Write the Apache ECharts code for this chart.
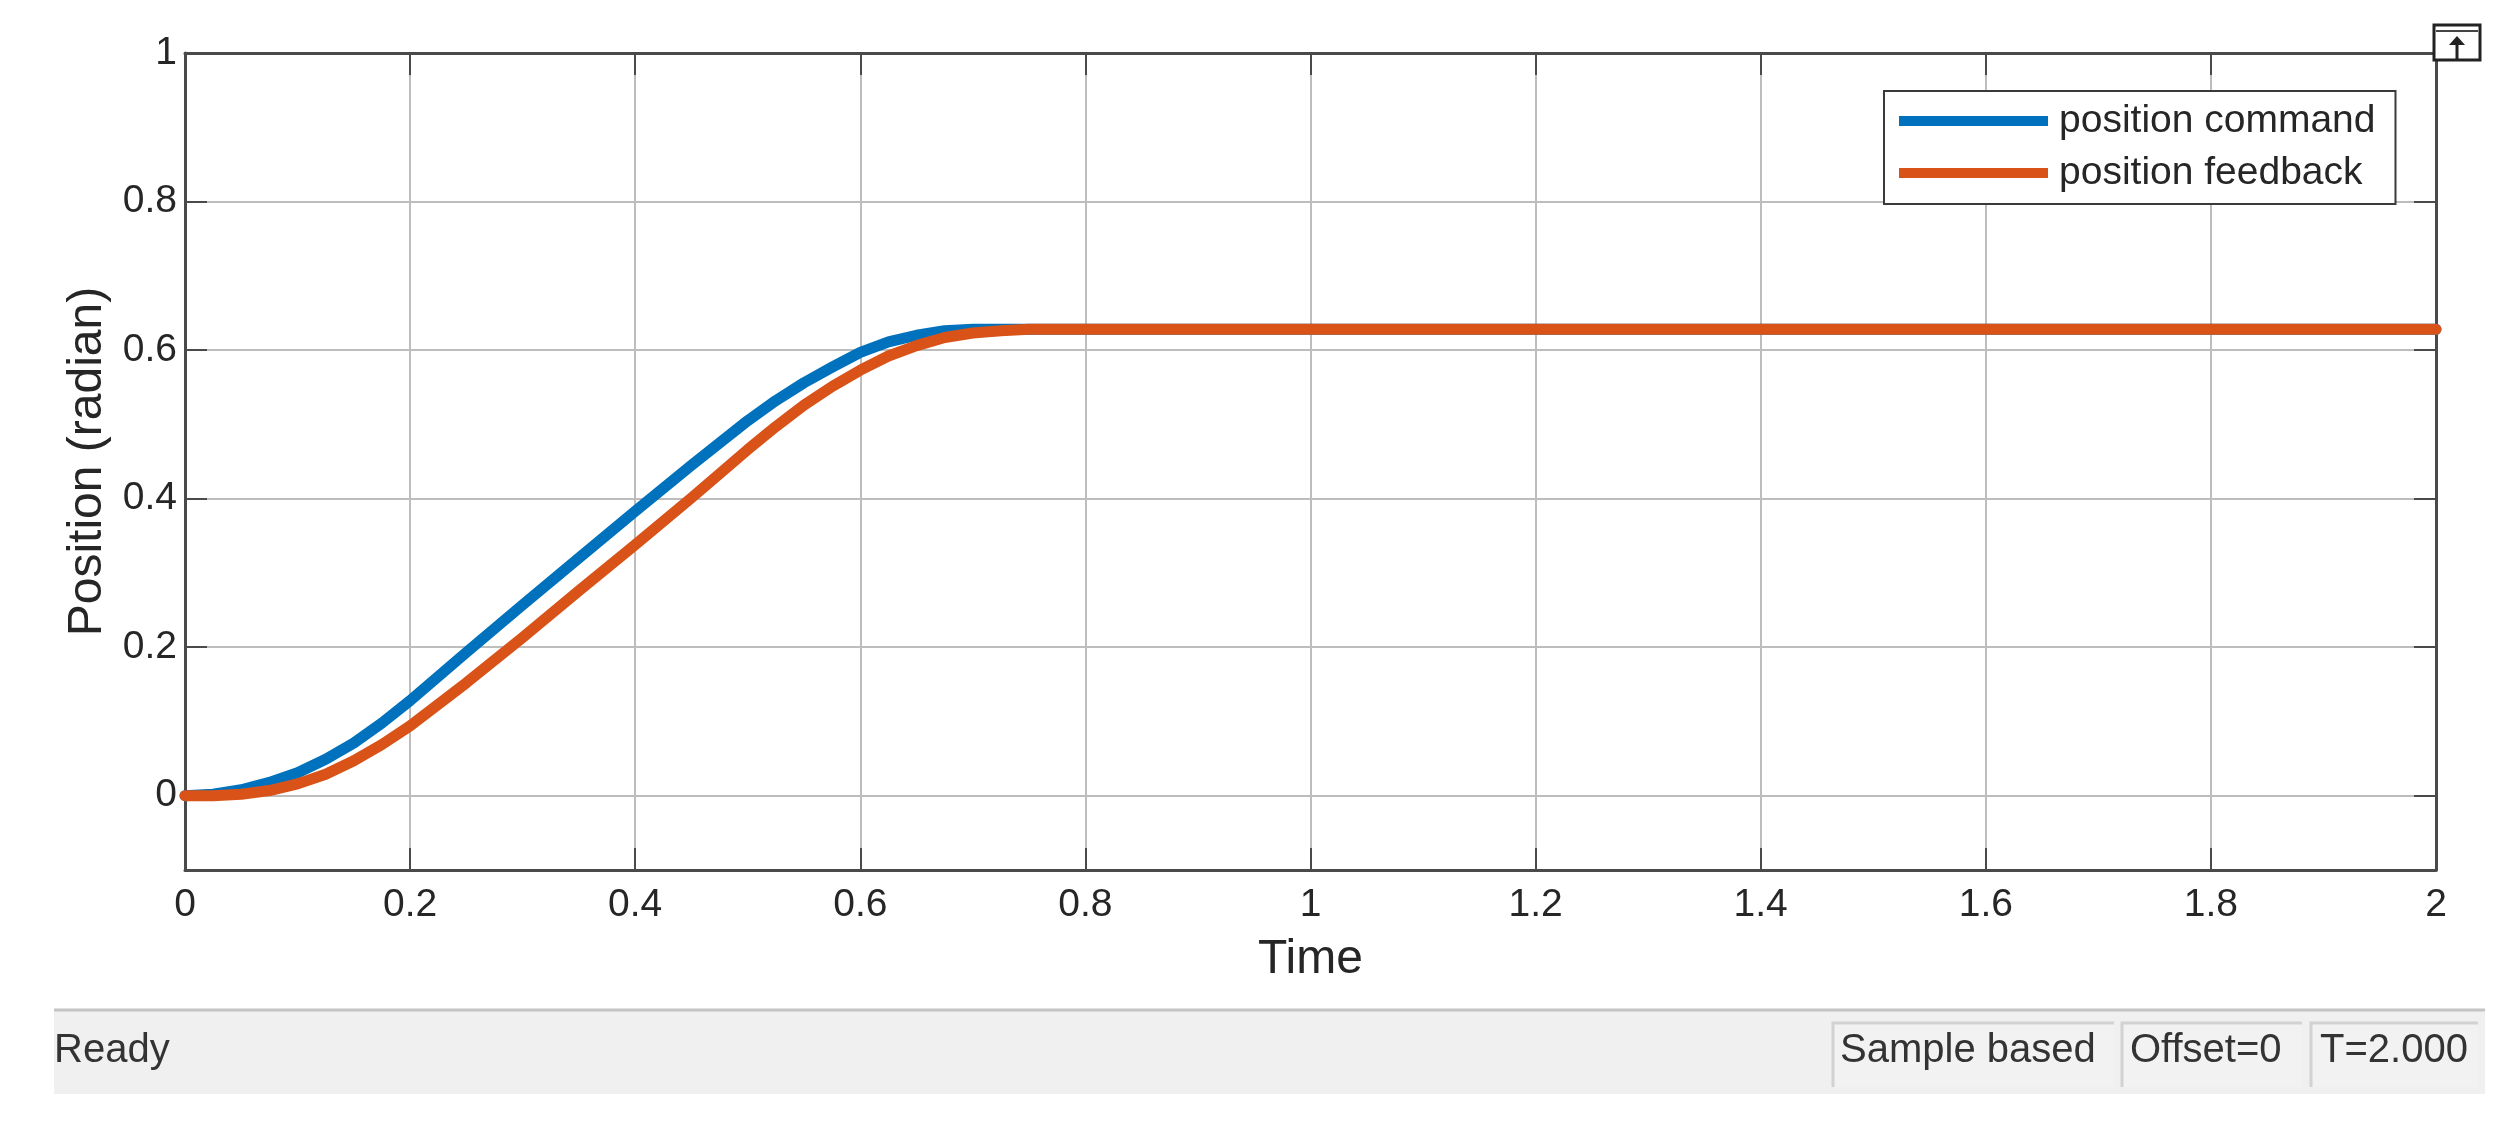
<!DOCTYPE html>
<html>
<head>
<meta charset="utf-8">
<script src="https://cdn.jsdelivr.net/npm/echarts@6/dist/echarts.min.js"></script>
<style>
html,body{margin:0;padding:0;background:#fff;}
#chart{width:2519px;height:1128px;}
</style>
</head>
<body>
<div id="chart"></div>
<script>
// ---- data ----
const timeValues = [0, 0.025, 0.05, 0.075, 0.1, 0.125, 0.15, 0.175, 0.2, 0.25, 0.3, 0.35, 0.4, 0.45, 0.5, 0.525, 0.55, 0.575, 0.6, 0.625, 0.65, 0.675, 0.7, 0.725, 0.75, 0.8, 1.0, 1.5, 2.0];
const positionCommand = [0, 0.002, 0.008, 0.018, 0.031, 0.049, 0.071, 0.098, 0.128, 0.193, 0.257, 0.320, 0.383, 0.445, 0.505, 0.532, 0.556, 0.577, 0.597, 0.611, 0.620, 0.626, 0.628, 0.628, 0.628, 0.628, 0.628, 0.628, 0.628];
const positionFeedback = [0, 0.000, 0.002, 0.007, 0.016, 0.029, 0.047, 0.069, 0.094, 0.152, 0.213, 0.276, 0.338, 0.401, 0.466, 0.497, 0.526, 0.551, 0.573, 0.592, 0.606, 0.617, 0.623, 0.626, 0.628, 0.628, 0.628, 0.628, 0.628];
const seriesNames = ['position command', 'position feedback'];
const seriesColors = ['#0072BD', '#D95319'];
const statusTexts = ['Ready', 'Sample based', 'Offset=0', 'T=2.000'];

const FONT = '"Liberation Sans", Arial, Helvetica, sans-serif';
const chart = echarts.init(document.getElementById('chart'));

function pairs(xs, ys) { return xs.map((x, i) => [x, ys[i]]); }

const axisLineStyle = { color: '#4a4a4a', width: 3 };
const tickStyle = { color: '#4a4a4a', width: 2 };
const gridStyle = { color: '#bdbdbd', width: 2 };

const xBase = {
  type: 'value', min: 0, max: 2, interval: 0.2,
  axisLine: { show: true, onZero: false, lineStyle: axisLineStyle },
  axisTick: { show: true, inside: true, length: 22, lineStyle: tickStyle },
};
const yBase = {
  type: 'value', min: -0.1, max: 1, splitNumber: 5,
  axisLine: { show: true, onZero: false, lineStyle: axisLineStyle },
  axisTick: { show: true, inside: true, length: 22, lineStyle: tickStyle },
};

const option = {
  backgroundColor: '#ffffff',
  animation: false,
  grid: { left: 185, right: 83, top: 53, bottom: 258, containLabel: false },
  legend: {
    left: 1884, top: 91, orient: 'vertical',
    data: seriesNames,
    icon: 'rect', itemWidth: 149, itemHeight: 10, itemGap: 8,
    padding: [8, 20, 9, 15],
    backgroundColor: '#ffffff', borderColor: '#3a3a3a', borderWidth: 2, borderRadius: 0,
    textStyle: { fontFamily: FONT, fontSize: 39, color: '#262626', lineHeight: 44, padding: [0, 0, 0, 6] },
    selectedMode: false
  },
  xAxis: [
    Object.assign({}, xBase, {
      position: 'bottom',
      name: 'Time', nameLocation: 'middle', nameGap: 66,
      nameTextStyle: { fontFamily: FONT, fontSize: 48, color: '#262626' },
      axisLabel: { show: true, margin: 16, fontFamily: FONT, fontSize: 39, color: '#262626',
        formatter: v => String(Math.round(v * 10) / 10) },
      splitLine: { show: true, lineStyle: gridStyle }
    }),
    Object.assign({}, xBase, {
      position: 'top', axisLabel: { show: false }, splitLine: { show: false }
    })
  ],
  yAxis: [
    Object.assign({}, yBase, {
      position: 'left',
      name: 'Position (radian)', nameLocation: 'middle', nameGap: 62,
      nameTextStyle: { fontFamily: FONT, fontSize: 48, color: '#262626' },
      axisLabel: { show: true, margin: 8, fontFamily: FONT, fontSize: 39, color: '#262626', showMinLabel: false,
        formatter: v => (Math.abs(v + 0.1) < 1e-6 ? '' : String(Math.round(v * 10) / 10)) },
      splitLine: { show: true, lineStyle: gridStyle }
    }),
    Object.assign({}, yBase, {
      position: 'right', axisLabel: { show: false }, splitLine: { show: false }
    })
  ],
  series: [
    {
      name: seriesNames[0], type: 'line', xAxisIndex: 0, yAxisIndex: 0,
      data: pairs(timeValues, positionCommand),
      showSymbol: false, smooth: false,
      lineStyle: { color: seriesColors[0], width: 11, join: 'round', cap: 'round' }, itemStyle: { color: seriesColors[0] }, z: 3
    },
    {
      name: seriesNames[1], type: 'line', xAxisIndex: 0, yAxisIndex: 0,
      data: pairs(timeValues, positionFeedback),
      showSymbol: false, smooth: false,
      lineStyle: { color: seriesColors[1], width: 11, join: 'round', cap: 'round' }, itemStyle: { color: seriesColors[1] }, z: 4
    }
  ],
  graphic: [
    // status bar
    { type: 'rect', shape: { x: 54, y: 1009, width: 2431, height: 85 }, style: { fill: '#f0f0f0' }, silent: true },
    { type: 'line', shape: { x1: 54, y1: 1010, x2: 2485, y2: 1010 }, style: { stroke: '#c4c4c4', lineWidth: 3 }, silent: true },
    { type: 'text', left: 54, top: 1031, style: { text: statusTexts[0], font: '40px ' + FONT, fill: '#333333' }, silent: true },
    // status boxes
    { type: 'rect', shape: { x: 1833, y: 1022, width: 281, height: 65 }, style: { fill: '#f2f2f2', stroke: null } },
    { type: 'polyline', shape: { points: [[1833, 1087], [1833, 1023], [2114, 1023]] }, style: { stroke: '#d2d2d2', lineWidth: 3, fill: null } },
    { type: 'text', left: 1840, top: 1031, style: { text: statusTexts[1], font: '40px ' + FONT, fill: '#333333' }, silent: true },
    { type: 'rect', shape: { x: 2122, y: 1022, width: 180, height: 65 }, style: { fill: '#f2f2f2', stroke: null } },
    { type: 'polyline', shape: { points: [[2122, 1087], [2122, 1023], [2302, 1023]] }, style: { stroke: '#d2d2d2', lineWidth: 3, fill: null } },
    { type: 'text', left: 2130, top: 1031, style: { text: statusTexts[2], font: '40px ' + FONT, fill: '#333333' }, silent: true },
    { type: 'rect', shape: { x: 2311, y: 1022, width: 167, height: 65 }, style: { fill: '#f2f2f2', stroke: null } },
    { type: 'polyline', shape: { points: [[2311, 1087], [2311, 1023], [2478, 1023]] }, style: { stroke: '#d2d2d2', lineWidth: 3, fill: null } },
    { type: 'text', left: 2320, top: 1031, style: { text: statusTexts[3], font: '40px ' + FONT, fill: '#333333' }, silent: true },
    // top-right icon
    { type: 'rect', z: 100, shape: { x: 2434, y: 25, width: 46, height: 35 }, style: { fill: '#ffffff', stroke: '#222222', lineWidth: 3 } },
    { type: 'line', z: 101, shape: { x1: 2436, y1: 31, x2: 2478, y2: 31 }, style: { stroke: '#444444', lineWidth: 2 } },
    { type: 'polygon', z: 101, shape: { points: [[2457, 36], [2449, 45], [2465, 45]] }, style: { fill: '#222222' } },
    { type: 'line', z: 101, shape: { x1: 2457, y1: 44, x2: 2457, y2: 60 }, style: { stroke: '#222222', lineWidth: 3 } }
  ]
};
chart.setOption(option);
</script>
</body>
</html>
